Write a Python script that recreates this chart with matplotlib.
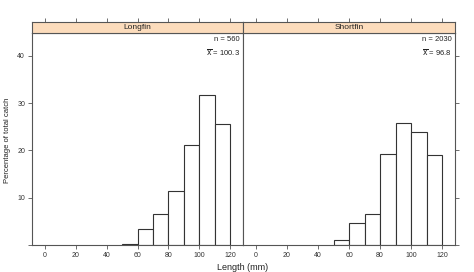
import matplotlib
matplotlib.use("Agg")
import matplotlib.pyplot as plt
import numpy as np

bin_edges = [50, 60, 70, 80, 90, 100, 110, 120]
longfin_pct = [0.2, 3.3, 6.5, 11.4, 21.1, 31.7, 25.5]
shortfin_pct = [1.0, 4.7, 6.5, 19.2, 25.7, 23.8, 19.0]
panels = ["Longfin", "Shortfin"]
n_vals = ["560", "2030"]
mean_vals = ["100.3", "96.8"]
xticks = [0, 20, 40, 60, 80, 100, 120]
yticks = [0, 10, 20, 30, 40]
ytick_labels = ["", "10", "20", "30", "40"]

W, H = 474, 272
fig = plt.figure(figsize=(W / 100, H / 100), dpi=100)
plt.rcParams['font.family'] = ['Liberation Sans', 'DejaVu Sans']

def fx(px):
    return px / W

def fy(py):
    return 1 - py / H

xlim = (-8.4, 128.3)
ylim = (0, 44.8)
edge_col = "#555555"
panel_x = [(32, 243), (243, 455)]
top_px, strip_top_px, bot_px = 33, 22, 245
data = [longfin_pct, shortfin_pct]

for i, (x0, x1) in enumerate(panel_x):
    ax = fig.add_axes([fx(x0), fy(bot_px), fx(x1 - x0), (bot_px - top_px) / H])
    widths = np.diff(bin_edges)
    ax.bar(bin_edges[:-1], data[i], width=widths, align='edge', facecolor='white',
           edgecolor='#333333', linewidth=0.8)
    ax.set_xlim(*xlim)
    ax.set_ylim(*ylim)
    for s in ax.spines.values():
        s.set_color(edge_col)
        s.set_linewidth(0.8)
    ax.set_xticks(xticks)
    ax.set_xticklabels([str(t) for t in xticks])
    ax.tick_params(axis='x', length=3, width=0.6, color=edge_col, labelsize=5,
                   pad=2, labelcolor='#333333')
    ax.set_yticks(yticks)
    if i == 0:
        ax.set_yticklabels(ytick_labels)
        ax.tick_params(axis='y', left=True, right=False, length=3, width=0.6,
                       color=edge_col, labelsize=5, pad=2, labelcolor='#333333')
    else:
        ax.yaxis.tick_right()
        ax.set_yticklabels([])
        ax.tick_params(axis='y', left=False, right=True, length=3, width=0.6,
                       color=edge_col)
    ax.text(0.985, 0.985, "n = " + n_vals[i], transform=ax.transAxes, ha='right',
            va='top', fontsize=5.5, color='#222222')
    ax.text(0.985, 0.935, "$\\overline{\\mathrm{x}}$ = " + mean_vals[i],
            transform=ax.transAxes, ha='right', va='top', fontsize=5.5, color='#222222')

    sax = fig.add_axes([fx(x0), fy(top_px), fx(x1 - x0), (top_px - strip_top_px) / H])
    sax.set_facecolor('#fcdcbc')
    sax.set_xlim(*xlim)
    sax.set_ylim(0, 1)
    for s in sax.spines.values():
        s.set_color(edge_col)
        s.set_linewidth(0.8)
    sax.set_yticks([])
    sax.set_xticks(xticks)
    sax.xaxis.tick_top()
    sax.set_xticklabels([])
    sax.tick_params(axis='x', top=True, bottom=False, length=3, width=0.6, color=edge_col)
    sax.text(0.5, 0.5, panels[i], transform=sax.transAxes, ha='center', va='center',
             fontsize=6, color='#222222')

fig.text(fx(243), fy(267), "Length (mm)", ha='center', va='center', fontsize=6.5,
         color='#222222')
fig.text(fx(8), fy(140), "Percentage of total catch", ha='center', va='center',
         rotation=90, fontsize=5.5, color='#222222')

fig.savefig("out.png", dpi=100)
